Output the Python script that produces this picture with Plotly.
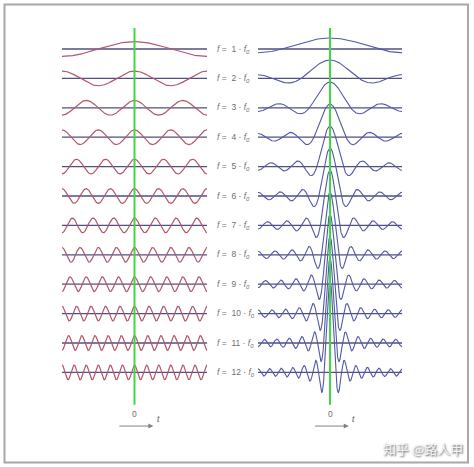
import numpy as np
import plotly.graph_objects as go

# ---- data ----
harmonics = [1, 2, 3, 4, 5, 6, 7, 8, 9, 10, 11, 12]
row_labels = [f"<i>f</i> =  {k} · <i>f</i><sub><i>0</i></sub>" for k in harmonics]
t_start, t_end = -0.5, 0.5          # one period of the fundamental
dc_offset = 0.5                      # constant term of the synthesis
row_spacing = 4.0                    # vertical offset between rows (amplitude units)
n_samples = 1200

t = np.linspace(t_start, t_end, n_samples)

RED = "#b2566a"
BLUE = "#5058a8"
BASE = "#4f4f80"
GREEN = "#40d840"
GRAY = "#6e6e6e"

fig = go.Figure()

y_top, y_bot = 2.86, -48.4

for i, k in enumerate(harmonics):
    off = -i * row_spacing
    for ax in ["x", "x2"]:
        fig.add_trace(go.Scatter(x=[t_start, t_end], y=[off, off], mode="lines",
                                 line=dict(color=BASE, width=1.3), xaxis=ax, yaxis="y",
                                 hoverinfo="skip", showlegend=False))

for i, k in enumerate(harmonics):
    off = -i * row_spacing
    single = np.cos(2 * np.pi * k * t)
    fig.add_trace(go.Scatter(x=t, y=single + off, mode="lines",
                             line=dict(color=RED, width=1.2), xaxis="x", yaxis="y",
                             hoverinfo="skip", showlegend=False))
    partial = dc_offset + sum(np.cos(2 * np.pi * m * t) for m in harmonics[:i + 1])
    fig.add_trace(go.Scatter(x=t, y=partial + off, mode="lines",
                             line=dict(color=BLUE, width=1.1), xaxis="x2", yaxis="y",
                             hoverinfo="skip", showlegend=False))

# green t=0 lines
for ax in ["x", "x2"]:
    fig.add_trace(go.Scatter(x=[0, 0], y=[y_top, y_bot], mode="lines",
                             line=dict(color=GREEN, width=2), xaxis=ax, yaxis="y",
                             hoverinfo="skip", showlegend=False))

ann = []
for i, lab in enumerate(row_labels):
    ann.append(dict(x=215 / 474, xref="paper", y=-i * row_spacing, yref="y",
                    text=lab, showarrow=False, xanchor="left", yanchor="middle",
                    font=dict(family="Liberation Sans, Arial", size=8.5, color=GRAY)))

for xr, yr in [("x", "y"), ("x2", "y")]:
    ann.append(dict(x=0, y=-49.6, xref=xr, yref=yr, text="0", showarrow=False,
                    font=dict(family="Liberation Sans, Arial", size=8.5, color=GRAY)))
    ann.append(dict(x=0.13, y=-51.3, xref=xr, yref=yr, ax=-0.115, ay=-51.3,
                    axref=xr, ayref=yr, text="", showarrow=True, arrowhead=2,
                    arrowsize=1, arrowwidth=1, arrowcolor="#808080"))
    ann.append(dict(x=0.14, y=-50.4, xref=xr, yref=yr, text="<i>t</i>", showarrow=False,
                    xanchor="left",
                    font=dict(family="Liberation Sans, Arial", size=8.5, color="#555555")))

ann.append(dict(x=465 / 474, y=1 - 448 / 467, xref="paper", yref="paper", text="知乎 @路人甲",
                showarrow=False, xanchor="right", yanchor="middle",
                font=dict(family="Noto Sans CJK SC", size=13, color="#f4f4f4",
                          shadow="1px 1px 2px #555")))

ymin = -(467 - 49) / 7.35
ymax = 49 / 7.35

fig.update_layout(
    width=474, height=467,
    margin=dict(l=0, r=0, t=0, b=0),
    paper_bgcolor="white", plot_bgcolor="rgba(0,0,0,0)",
    hovermode=False,
    xaxis=dict(domain=[62 / 474, 207 / 474], range=[t_start, t_end], visible=False),
    xaxis2=dict(domain=[258 / 474, 402 / 474], range=[t_start, t_end], visible=False),
    yaxis=dict(domain=[0, 1], range=[ymin, ymax], visible=False),
    annotations=ann,
    shapes=[dict(type="rect", xref="paper", yref="paper",
                 x0=4.5 / 474, x1=468 / 474, y0=1 - 462.5 / 467, y1=1 - 4.5 / 467,
                 line=dict(color="#a8a8a8", width=2))],
)

fig.write_html("out.html", config={"displayModeBar": False, "staticPlot": True},
               post_script="document.body.style.margin='0px';document.body.style.overflow='hidden';")
